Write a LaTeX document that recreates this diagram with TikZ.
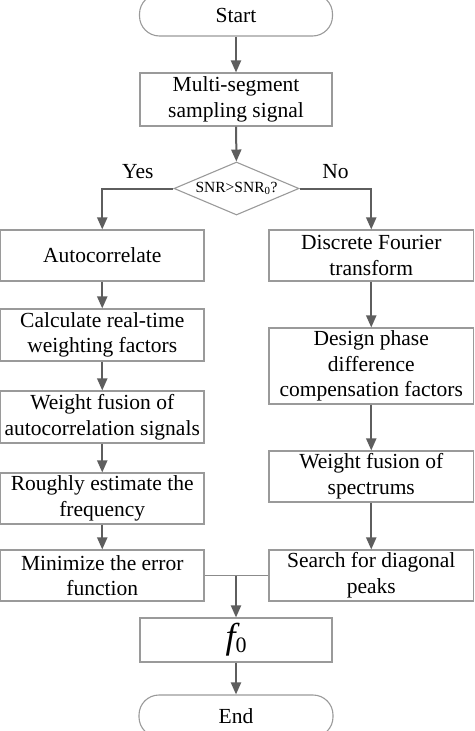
\documentclass[tikz,border=0pt]{standalone}
\usepackage{fontspec}
\setmainfont{Liberation Serif}
\usetikzlibrary{arrows.meta,shapes.geometric}

\definecolor{boxgray}{HTML}{9A9A9A}
\definecolor{arrowgray}{HTML}{5E5E5E}

\begin{document}
\begin{tikzpicture}[x=1pt,y=-1pt,font=\fontsize{21.5}{25.7}\selectfont]

\tikzset{block/.style = {shape=rectangle,draw=boxgray,line width=1.1pt,align=center,inner sep=0pt}}
\tikzset{term/.style = {block,rounded corners=20pt,minimum width=193pt,minimum height=42pt}}
\tikzset{decision/.style = {shape=diamond,draw=boxgray,line width=1.1pt,aspect=2.36,inner sep=0pt,
  minimum width=125pt,minimum height=53pt,font=\fontsize{15.5}{18}\selectfont}}
\tikzset{edge/.style = {-{Triangle[length=12pt,width=10pt]},draw=arrowgray,line width=2pt}}
\tikzset{mergeline/.style = {draw=boxgray!90!black,line width=1.1pt}}

\useasboundingbox (0,0) rectangle (474,731);

% main line
\node[term] (start) at (236,15) {Start};
\node[block,minimum width=192pt,minimum height=53pt] (multi) at (236,99.5) {Multi-segment\\sampling signal};
\node[decision] (snr) at (236.5,188.5) {SNR>SNR\textsubscript{0}?};

% left column
\node[block,minimum width=203.5pt,minimum height=51pt] (auto) at (102.25,255.5) {Autocorrelate};
\node[block,minimum width=203.5pt,minimum height=52pt] (calc) at (102.25,335) {Calculate real-time\\weighting factors};
\node[block,minimum width=203.5pt,minimum height=52pt] (wfauto) at (102.25,417) {Weight fusion of\\autocorrelation signals};
\node[block,minimum width=203.5pt,minimum height=51pt] (rough) at (102.25,498.5) {Roughly estimate the\\frequency};
\node[block,minimum width=203.5pt,minimum height=51pt] (mini) at (102.25,575.5) {Minimize the error\\function};

% right column
\node[block,minimum width=204.5pt,minimum height=51pt] (dft) at (371.25,255.5) {Discrete Fourier\\transform};
\node[block,minimum width=204.5pt,minimum height=76pt] (design) at (371.25,366) {Design phase\\difference\\compensation factors};
\node[block,minimum width=204.5pt,minimum height=51pt] (wfspec) at (371.25,476.5) {Weight fusion of\\spectrums};
\node[block,minimum width=204.5pt,minimum height=51pt] (search) at (371.25,575.5) {Search for diagonal\\peaks};

% result
\node[block,minimum width=192pt,minimum height=44pt] (fzero) at (236,640)
  {{\fontsize{36}{36}\selectfont\itshape f}\raisebox{-4pt}{\fontsize{22}{22}\selectfont 0}};
\node[term,minimum width=194pt] (end) at (236,716) {End};

\coordinate (merge) at (fzero.north |- mini.east);

\draw[edge] (start) to (multi);
\draw[edge] (multi) to (snr);
\draw[edge] (snr.west) -| node[pos=0.25,above,yshift=5pt] (yes) {Yes} (auto.north);
\draw[edge] (snr.east) -| node[pos=0.25,above,yshift=5pt] (no) {No} (dft.north);

\draw[edge] (auto) to (calc);
\draw[edge] (calc) to (wfauto);
\draw[edge] (wfauto) to (rough);
\draw[edge] (rough) to (mini);

\draw[edge] (dft) to (design);
\draw[edge] (design) to (wfspec);
\draw[edge] (wfspec) to (search);

\draw[mergeline] (mini.east) -- (search.west);
\draw[edge] (merge) to (fzero.north);
\draw[edge] (fzero) to (end);

\end{tikzpicture}
\end{document}
